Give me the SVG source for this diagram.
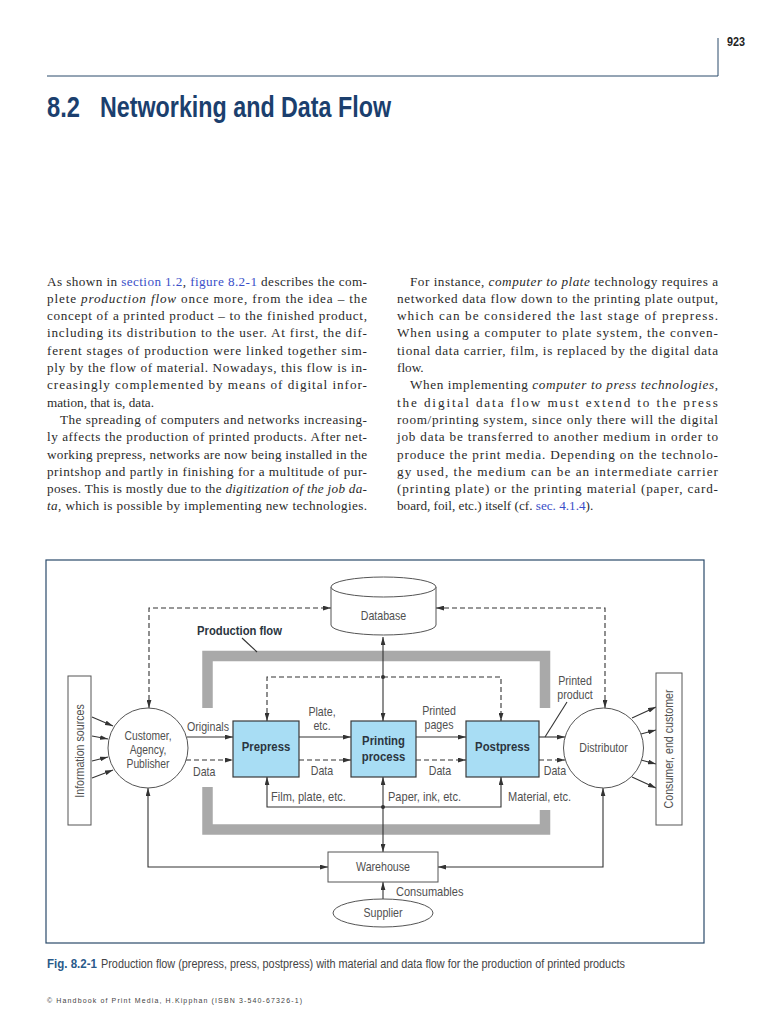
<svg xmlns="http://www.w3.org/2000/svg" width="768" height="1024" viewBox="0 0 768 1024">
<style>
.lbl{font-family:'Liberation Sans',Arial,sans-serif;font-size:13px;fill:#505050}
.sm{font-size:12.3px}
.b{font-weight:bold;fill:#2b3540;font-size:13.5px}
.mid{text-anchor:middle}
.ln{stroke:#333;stroke-width:1.1;fill:none}
.dash{stroke-dasharray:5,3}
.arr{marker-end:url(#a)}
.arr2{marker-start:url(#a);marker-end:url(#a)}
.shape{fill:#fff;stroke:#555;stroke-width:1}
.box{fill:#a8ddf4;stroke:#3a3a3a;stroke-width:1.2}
.body{font-family:'Liberation Serif',serif;font-size:13.2px;fill:#2a2a2a}
.it{font-style:italic}
.link{fill:#3a4fc8}
.gray{fill:none;stroke:#a9a9a9;stroke-width:10.5}
</style>
<defs>
<marker id="a" viewBox="0 0 10 6" refX="10" refY="3" markerWidth="8" markerHeight="5" markerUnits="userSpaceOnUse" orient="auto-start-reverse">
<path d="M0,0 L10,3 L0,6 z" fill="#333"/>
</marker>
</defs>
<rect width="768" height="1024" fill="#fff"/>

<g id="page-header">
<line x1="47" y1="76" x2="718" y2="76" stroke="#2a4a6a" stroke-width="1"/>
<line x1="718" y1="38" x2="718" y2="76" stroke="#2a4a6a" stroke-width="1"/>
<text x="736" y="46" class="lbl mid" textLength="18" lengthAdjust="spacingAndGlyphs" style="font-weight:bold;fill:#222;font-size:12.5px">923</text>
<text x="47" y="117" textLength="33" lengthAdjust="spacingAndGlyphs" style="font-family:'Liberation Sans',Arial,sans-serif;font-weight:bold;font-size:29px;fill:#1b3f6e">8.2</text>
<text x="100" y="117" textLength="291" lengthAdjust="spacingAndGlyphs" style="font-family:'Liberation Sans',Arial,sans-serif;font-weight:bold;font-size:29px;fill:#1b3f6e">Networking and Data Flow</text>
</g>

<g id="body-left" class="body">
<text x="47" y="285.5" textLength="320" lengthAdjust="spacing">As shown in <tspan class="link">section 1.2</tspan>, <tspan class="link">figure 8.2-1</tspan> describes the com-</text>
<text x="47" y="302.8" textLength="320" lengthAdjust="spacing">plete <tspan class="it">production flow</tspan> once more, from the idea – the</text>
<text x="47" y="320.1" textLength="320" lengthAdjust="spacing">concept of a printed product – to the finished product,</text>
<text x="47" y="337.4" textLength="320" lengthAdjust="spacing">including its distribution to the user. At first, the dif-</text>
<text x="47" y="354.7" textLength="320" lengthAdjust="spacing">ferent stages of production were linked together sim-</text>
<text x="47" y="372.0" textLength="320" lengthAdjust="spacing">ply by the flow of material. Nowadays, this flow is in-</text>
<text x="47" y="389.3" textLength="320" lengthAdjust="spacing">creasingly complemented by means of digital infor-</text>
<text x="47" y="406.6">mation, that is, data.</text>
<text x="60" y="423.9" textLength="307" lengthAdjust="spacing">The spreading of computers and networks increasing-</text>
<text x="47" y="441.2" textLength="320" lengthAdjust="spacing">ly affects the production of printed products. After net-</text>
<text x="47" y="458.5" textLength="320" lengthAdjust="spacing">working prepress, networks are now being installed in the</text>
<text x="47" y="475.8" textLength="320" lengthAdjust="spacing">printshop and partly in finishing for a multitude of pur-</text>
<text x="47" y="493.1" textLength="320" lengthAdjust="spacing">poses. This is mostly due to the <tspan class="it">digitization of the job da-</tspan></text>
<text x="47" y="510.4" textLength="320" lengthAdjust="spacing"><tspan class="it">ta</tspan>, which is possible by implementing new technologies.</text>
</g>

<g id="body-right" class="body">
<text x="410" y="285.5" textLength="308" lengthAdjust="spacing">For instance, <tspan class="it">computer to plate</tspan> technology requires a</text>
<text x="397" y="302.8" textLength="321" lengthAdjust="spacing">networked data flow down to the printing plate output,</text>
<text x="397" y="320.1" textLength="321" lengthAdjust="spacing">which can be considered the last stage of prepress.</text>
<text x="397" y="337.4" textLength="321" lengthAdjust="spacing">When using a computer to plate system, the conven-</text>
<text x="397" y="354.7" textLength="321" lengthAdjust="spacing">tional data carrier, film, is replaced by the digital data</text>
<text x="397" y="372.0">flow.</text>
<text x="410" y="389.3" textLength="308" lengthAdjust="spacing">When implementing <tspan class="it">computer to press technologies</tspan>,</text>
<text x="397" y="406.6" textLength="321" lengthAdjust="spacing">the digital data flow must extend to the press</text>
<text x="397" y="423.9" textLength="321" lengthAdjust="spacing">room/printing system, since only there will the digital</text>
<text x="397" y="441.2" textLength="321" lengthAdjust="spacing">job data be transferred to another medium in order to</text>
<text x="397" y="458.5" textLength="321" lengthAdjust="spacing">produce the print media. Depending on the technolo-</text>
<text x="397" y="475.8" textLength="321" lengthAdjust="spacing">gy used, the medium can be an intermediate carrier</text>
<text x="397" y="493.1" textLength="321" lengthAdjust="spacing">(printing plate) or the printing material (paper, card-</text>
<text x="397" y="510.4">board, foil, etc.) itself (cf. <tspan class="link">sec. 4.1.4</tspan>).</text>
</g>

<g id="frame">
<rect x="46" y="560" width="658" height="383" fill="none" stroke="#2a4a6a" stroke-width="1.2"/>
</g>

<g id="production-flow-band">
<path class="gray" d="M207.5,708 V656 H545 V708"/>
<path class="gray" d="M207.5,787 V829.5 H545 V810"/>
<text x="197" y="635" class="lbl b" textLength="85" lengthAdjust="spacingAndGlyphs">Production flow</text>
</g>

<g id="connectors">
<path class="ln dash arr2" d="M149,708 V608 H331"/>
<path class="ln dash arr2" d="M436,608 H605 V708"/>
<path class="ln arr2" d="M383,637 V721"/>
<path class="ln dash arr2" d="M267,721 V677 H501 V721"/>
<circle cx="383" cy="677" r="2" fill="#333"/>
<path class="ln arr2" d="M267,777 V807 H501 V777"/>
<path class="ln arr2" d="M383,777 V852"/>
<circle cx="383" cy="807" r="2" fill="#333"/>
<path class="ln arr2" d="M148,788 V867 H328"/>
<path class="ln arr2" d="M603,788 V867 H438"/>
<path class="ln arr" d="M383,899 V882"/>
<path class="ln arr" d="M187,737 H233"/>
<path class="ln dash arr" d="M186,760 H233"/>
<path class="ln arr" d="M299,737 H351"/>
<path class="ln dash arr" d="M299,760 H351"/>
<path class="ln arr" d="M416,737 H466"/>
<path class="ln dash arr" d="M416,760 H466"/>
<path class="ln arr" d="M539,737 H565"/>
<path class="ln dash arr" d="M539,760 H565"/>
<path class="ln arr" d="M92,717 L113,726"/>
<path class="ln arr" d="M92,736 L108,739"/>
<path class="ln arr" d="M92,761 L108,757"/>
<path class="ln arr" d="M92,778 L113,770"/>
<path class="ln arr" d="M632,718 L656,707"/>
<path class="ln arr" d="M641,734 L656,730"/>
<path class="ln arr" d="M641,760 L656,764"/>
<path class="ln arr" d="M632,777 L656,788"/>
<path class="ln" d="M242,638 L257,652"/>
<path class="ln" d="M545,737 L567,702"/>
</g>

<g id="database">
<path class="shape" d="M331,587 V625 A52.5,10 0 0 0 436,625 V587"/>
<ellipse class="shape" cx="383.5" cy="587" rx="52.5" ry="10"/>
<text class="lbl mid" transform="translate(383.5,620) scale(0.82,1)">Database</text>
</g>

<g id="information-sources">
<rect class="shape" x="68" y="676" width="23" height="149" stroke="#333"/>
<text class="lbl mid" transform="translate(84,751) rotate(-90) scale(0.82,1)">Information sources</text>
</g>

<g id="customer">
<circle class="shape" cx="148" cy="748" r="40"/>
<text class="lbl sm mid" transform="translate(148,740) scale(0.84,1)">Customer,</text>
<text class="lbl sm mid" transform="translate(148,754) scale(0.84,1)">Agency,</text>
<text class="lbl sm mid" transform="translate(148,768) scale(0.84,1)">Publisher</text>
</g>

<g id="prepress">
<rect class="box" x="233" y="721" width="66" height="56"/>
<text class="lbl mid b" transform="translate(266,751) scale(0.84,1)">Prepress</text>
</g>

<g id="printing-process">
<rect class="box" x="351" y="721" width="65" height="56"/>
<text class="lbl mid b" transform="translate(383.5,745) scale(0.84,1)">Printing</text>
<text class="lbl mid b" transform="translate(383.5,761) scale(0.84,1)">process</text>
</g>

<g id="postpress">
<rect class="box" x="466" y="721" width="73" height="56"/>
<text class="lbl mid b" transform="translate(502.5,751) scale(0.84,1)">Postpress</text>
</g>

<g id="distributor">
<circle class="shape" cx="603.5" cy="748" r="40"/>
<text class="lbl mid" transform="translate(603.5,752) scale(0.82,1)">Distributor</text>
</g>

<g id="consumer">
<rect class="shape" x="656" y="673" width="26" height="152" stroke="#333"/>
<text class="lbl mid" transform="translate(673,749) rotate(-90) scale(0.82,1)">Consumer, end customer</text>
</g>

<g id="warehouse">
<rect class="shape" x="328" y="852" width="110" height="30" stroke="#333"/>
<text class="lbl mid" transform="translate(383,871) scale(0.82,1)">Warehouse</text>
</g>

<g id="supplier">
<ellipse class="shape" cx="383" cy="913" rx="50" ry="14"/>
<text class="lbl mid" transform="translate(383,917) scale(0.82,1)">Supplier</text>
</g>

<g id="labels">
<text class="lbl" transform="translate(187,731) scale(0.82,1)">Originals</text>
<text class="lbl" transform="translate(193,776) scale(0.82,1)">Data</text>
<text class="lbl mid" transform="translate(322,716) scale(0.82,1)">Plate,</text>
<text class="lbl mid" transform="translate(322,730) scale(0.82,1)">etc.</text>
<text class="lbl mid" transform="translate(322,775) scale(0.82,1)">Data</text>
<text class="lbl mid" transform="translate(439,715) scale(0.82,1)">Printed</text>
<text class="lbl mid" transform="translate(439,729) scale(0.82,1)">pages</text>
<text class="lbl mid" transform="translate(440,775) scale(0.82,1)">Data</text>
<text class="lbl mid" transform="translate(555,775) scale(0.82,1)">Data</text>
<text class="lbl mid" transform="translate(575,685) scale(0.82,1)">Printed</text>
<text class="lbl mid" transform="translate(575,699) scale(0.82,1)">product</text>
<text class="lbl" transform="translate(271,801) scale(0.85,1)">Film, plate, etc.</text>
<text class="lbl" transform="translate(388,801) scale(0.85,1)">Paper, ink, etc.</text>
<text class="lbl" transform="translate(508,801) scale(0.85,1)">Material, etc.</text>
<text class="lbl" transform="translate(396,896) scale(0.85,1)">Consumables</text>
</g>

<g id="caption">
<text x="47" y="968" textLength="50" lengthAdjust="spacingAndGlyphs" style="font-family:'Liberation Sans',Arial,sans-serif;font-weight:bold;font-size:13px;fill:#2a5a8a">Fig. 8.2-1</text>
<text x="101" y="968" class="lbl" textLength="524" lengthAdjust="spacingAndGlyphs" style="fill:#444;font-size:12.5px">Production flow (prepress, press, postpress) with material and data flow for the production of printed products</text>
<text x="47" y="1003" textLength="255" lengthAdjust="spacing" style="font-family:'Liberation Sans','DejaVu Sans',sans-serif;font-size:7px;fill:#444">© Handbook of Print Media, H.Kipphan (ISBN 3-540-67326-1)</text>
</g>
</svg>
